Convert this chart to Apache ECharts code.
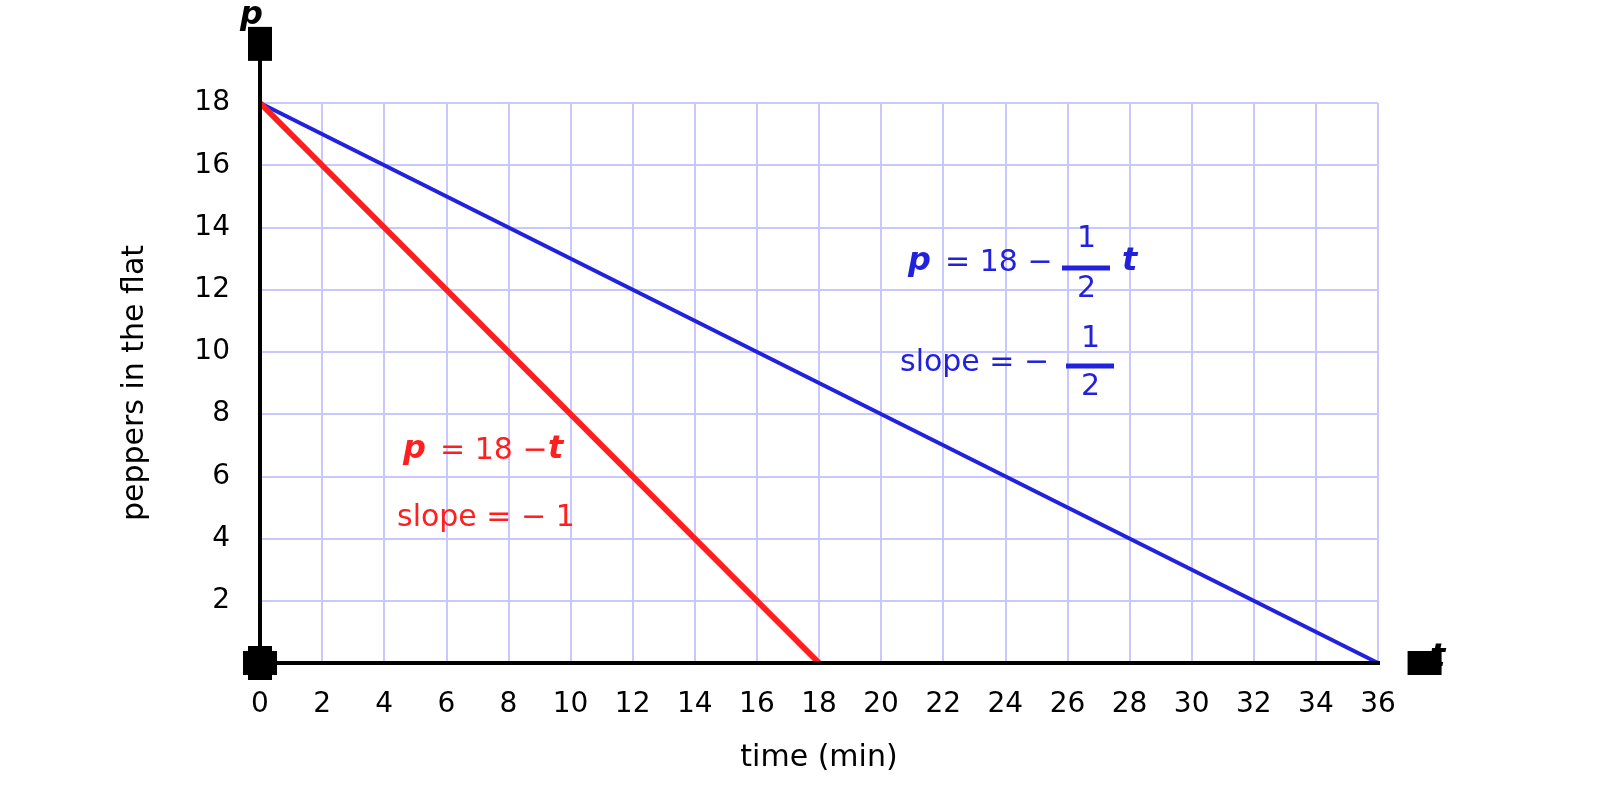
<!DOCTYPE html>
<html><head><meta charset="utf-8">
<script src="https://cdn.jsdelivr.net/npm/echarts@6/dist/echarts.min.js"></script>
<style>html,body{margin:0;padding:0;background:#fff}#c{width:1600px;height:807px}</style>
</head><body><div id="c"></div>
<script>
const blueLine = [[0,18],[36,0]];
const redLine = [[0,18],[18,0]];
const xAxisLine = [[0,0],[37.5,0]];
const yAxisLine = [[0,0],[0,19.9]];
const F = '"DejaVu Sans", sans-serif';
const chart = echarts.init(document.getElementById('c'));
const blue = '#2222dd', red = '#ff1f1f';
function txt(x,y,t,c){return {type:'text',left:x,top:y,z:10,style:{text:t,fill:c,fontSize:30,fontFamily:F}};}
function ital(x,y,t,c){return {type:'text',left:x,top:y,z:10,style:{text:t,fill:c,fontSize:32,fontStyle:'italic',fontWeight:'bold',fontFamily:F}};}
function bar(x1,x2,y,c){return {type:'line',z:10,shape:{x1:x1,y1:y,x2:x2,y2:y},style:{stroke:c,lineWidth:5}};}
chart.setOption({
  animation:false,
  grid:{left:260,right:222,top:103,bottom:144},
  xAxis:{type:'value',min:0,max:36,interval:2,
    name:'time (min)',nameLocation:'middle',nameGap:80,nameTextStyle:{fontSize:30,fontFamily:F,color:'#000'},
    axisLine:{show:false},axisTick:{show:false},
    axisLabel:{fontSize:28,fontFamily:F,color:'#000',margin:28},
    splitLine:{lineStyle:{color:'#c8c8ff',width:2}}},
  yAxis:{type:'value',min:0,max:18,interval:2,
    name:'peppers in the flat',nameLocation:'middle',nameGap:110,nameTextStyle:{fontSize:30,fontFamily:F,color:'#000'},
    axisLine:{show:false},axisTick:{show:false},
    axisLabel:{fontSize:28,fontFamily:F,color:'#000',margin:30,formatter:v=>v===0?'':String(v)},
    splitLine:{lineStyle:{color:'#c8c8ff',width:2}}},
  series:[
    {type:'line',data:xAxisLine,clip:false,symbol:['none','arrow'],symbolSize:[24,34],symbolRotate:-90,showSymbol:true,
      itemStyle:{color:'#000'},lineStyle:{color:'#000',width:4},z:5},
    {type:'line',data:yAxisLine,clip:false,symbol:['none','arrow'],symbolSize:[24,34],showSymbol:true,
      itemStyle:{color:'#000'},lineStyle:{color:'#000',width:4},z:5},
    {type:'line',data:blueLine,symbol:'none',lineStyle:{color:blue,width:4},z:3},
    {type:'line',data:redLine,symbol:'none',lineStyle:{color:red,width:6},z:4}
  ],
  graphic:[
    ital(240,0,'p','#000'), ital(1430,642,'t','#000'),
    ital(908,246,'p',blue), txt(945,248,'= 18 −',blue), bar(1062,1110,268,blue),
    txt(1077,224,'1',blue), txt(1077,274,'2',blue), ital(1122,246,'t',blue),
    txt(900,348,'slope = −',blue), bar(1066,1114,366,blue),
    txt(1081,324,'1',blue), txt(1081,372,'2',blue),
    ital(403,434,'p',red), txt(440,436,'= 18 −',red), ital(548,434,'t',red),
    txt(397,503,'slope = − 1',red)
  ]
});
</script></body></html>
